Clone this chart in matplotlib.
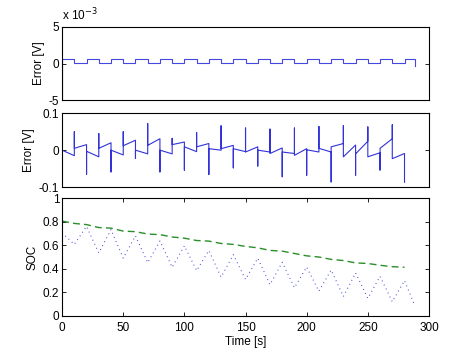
import numpy as np
import matplotlib
matplotlib.use("Agg")
import matplotlib.pyplot as plt
from matplotlib.ticker import FuncFormatter

plt.rcParams['font.family'] = ['Liberation Sans', 'DejaVu Sans']
plt.rcParams['font.size'] = 8.5

# ---- top panel: small voltage error (square wave) ----
top_edges = [0, 10, 20, 30, 40, 50, 60, 70, 80, 90, 100, 110, 120, 130, 140,
             150, 160, 170, 180, 190, 200, 210, 220, 230, 240, 250, 260, 270,
             280, 288.5]
top_levels = [0.62e-3, 0.05e-3, 0.62e-3, 0.05e-3, 0.62e-3, 0.05e-3, 0.62e-3,
              0.05e-3, 0.62e-3, 0.05e-3, 0.62e-3, 0.05e-3, 0.62e-3, 0.05e-3,
              0.62e-3, 0.05e-3, 0.62e-3, 0.05e-3, 0.62e-3, 0.05e-3, 0.62e-3,
              0.05e-3, 0.62e-3, 0.05e-3, 0.62e-3, 0.05e-3, 0.62e-3, 0.05e-3,
              0.62e-3]
top_first = -6e-3
top_last = -0.4e-3

# ---- middle panel: voltage error with spikes ----
mid_seg_t = [0, 10, 20, 30, 40, 50, 60, 70, 80, 90, 100, 110, 120, 130, 140,
             150, 160, 170, 180, 190, 200, 210, 220, 230, 240, 250, 260, 270, 280]
mid_first = -0.11
mid_seg_start = [0.0, 0.005, -0.003, 0.005, 0.0, 0.012, 0.0, 0.013, 0.0, 0.015,
                 0.009, 0.009, 0.004, 0.004, 0.004, -0.005, 0.0, -0.009, -0.005,
                 -0.014, 0.001, 0.005, 0.009, -0.018, -0.010, -0.018, 0.005, -0.023]
mid_seg_end = [-0.015, 0.015, -0.018, 0.020, -0.013, 0.027, -0.010, 0.031, -0.010,
               0.022, -0.004, 0.018, 0.0, 0.013, -0.004, 0.009, -0.005, 0.006,
               -0.009, 0.004, -0.005, -0.005, 0.018, 0.014, 0.024, -0.007, 0.031,
               -0.009]
mid_spike = [0.050, -0.065, 0.045, -0.059, 0.050, -0.022, 0.072, -0.059, 0.032,
             -0.054, 0.048, -0.066, 0.066, -0.048, 0.060, -0.043, 0.057, -0.072,
             0.060, -0.068, 0.064, -0.086, 0.066, -0.068, 0.063, -0.054, 0.069,
             -0.087]

# ---- bottom panel: SOC ----
soc_est_t = [0, 10, 20, 30, 40, 50, 60, 70, 80, 90, 100, 110, 120, 130, 140,
             150, 160, 170, 180, 190, 200, 210, 220, 230, 240, 250, 260, 270, 280]
soc_est = [0.805, 0.785, 0.775, 0.75, 0.745, 0.72, 0.715, 0.695, 0.69, 0.67,
           0.66, 0.64, 0.635, 0.615, 0.607, 0.59, 0.578, 0.556, 0.55, 0.53,
           0.51, 0.50, 0.48, 0.47, 0.45, 0.445, 0.43, 0.418, 0.413]
soc_true_t = [0, 10, 20, 30, 40, 50, 60, 70, 80, 90, 100, 110, 120, 130, 140,
              150, 160, 170, 180, 190, 200, 210, 220, 230, 240, 250, 260, 270,
              280, 288.5]
soc_true = [0.705, 0.607, 0.76, 0.535, 0.733, 0.49, 0.68, 0.452, 0.636, 0.413,
            0.595, 0.385, 0.555, 0.33, 0.52, 0.31, 0.49, 0.265, 0.455, 0.24,
            0.415, 0.21, 0.39, 0.165, 0.365, 0.15, 0.336, 0.12, 0.30, 0.085]

blue = '#3232d8'

fig = plt.figure(figsize=(4.74, 3.55), dpi=100)
ax1 = fig.add_axes([0.131, 0.718, 0.774, 0.206])
ax2 = fig.add_axes([0.131, 0.473, 0.774, 0.208])
ax3 = fig.add_axes([0.131, 0.110, 0.774, 0.332])

# top
tx = [0]
ty = [top_first]
for i, lev in enumerate(top_levels):
    tx += [top_edges[i], top_edges[i + 1]]
    ty += [lev, lev]
tx.append(top_edges[-1])
ty.append(top_last)
ax1.plot(tx, ty, color='#4646e0', lw=0.8)
ax1.set_ylim(-5e-3, 5e-3)
ax1.set_yticks([-5e-3, 0, 5e-3])
ax1.yaxis.set_major_formatter(FuncFormatter(lambda v, p: '%g' % round(v * 1e3)))
ax1.text(0.0, 1.05, r'x 10$^{-3}$', transform=ax1.transAxes, ha='left',
         va='bottom', fontsize=8.5)
ax1.set_ylabel('Error [V]', labelpad=3)

# middle
mx = [0]
my = [mid_first]
for i in range(len(mid_seg_start)):
    mx += [mid_seg_t[i], mid_seg_t[i + 1], mid_seg_t[i + 1]]
    my += [mid_seg_start[i], mid_seg_end[i], mid_spike[i]]
ax2.plot(mx, my, color=blue, lw=0.8)
ax2.set_ylim(-0.1, 0.1)
ax2.set_yticks([-0.1, 0, 0.1])
ax2.yaxis.set_major_formatter(FuncFormatter(lambda v, p: '%g' % round(v, 2)))
ax2.set_ylabel('Error [V]', labelpad=3)

# bottom
ax3.plot(soc_est_t, soc_est, color='#2a8f2a', lw=1.0, dashes=(5, 3))
ax3.plot(soc_true_t, soc_true, color='#4040d8', lw=0.8, dashes=(0.8, 3.2))
ax3.set_ylim(0, 1)
ax3.set_yticks([0, 0.2, 0.4, 0.6, 0.8, 1])
ax3.yaxis.set_major_formatter(FuncFormatter(lambda v, p: '%g' % round(v, 1)))
ax3.set_xticks([0, 50, 100, 150, 200, 250, 300])
ax3.set_xlabel('Time [s]', labelpad=2)
ax3.set_ylabel('SOC', labelpad=3)

for ax in (ax1, ax2, ax3):
    ax.set_xlim(0, 300)
    for s in ax.spines.values():
        s.set_linewidth(0.8)
    ax.tick_params(direction='in', length=3, width=0.6, top=True, right=True,
                   pad=2, labelsize=8.5)
    ax.tick_params(axis='x', pad=4)
for ax in (ax1, ax2):
    ax.set_xticks([])

fig.savefig('out.png', dpi=100)
